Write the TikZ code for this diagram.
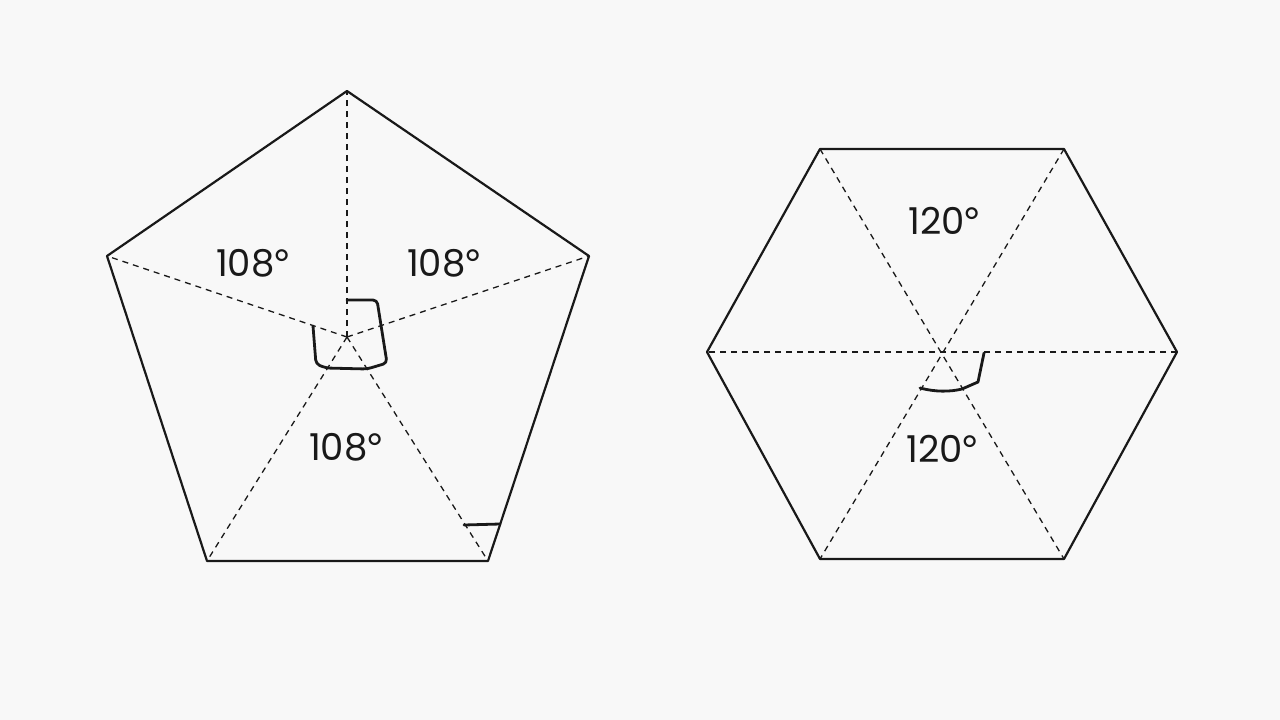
\documentclass[tikz,border=0pt]{standalone}
\usepackage{fontspec}
\setmainfont{Poppins}
\newfontfamily\degfont{Lato}
\definecolor{bg}{RGB}{248,248,248}
\definecolor{ink}{RGB}{25,25,25}
\newcommand{\degsym}{{\degfont °}}
\begin{document}
\begin{tikzpicture}[x=1pt,y=-1pt,
  edge/.style={draw=ink,line width=2.2pt,line join=round},
  diag/.style={draw=ink,line width=1.3pt,dash pattern=on 6pt off 5pt},
  anglemark/.style={draw=ink,line width=2.8pt,line cap=round,line join=round,rounded corners=4pt},
  lbl/.style={font=\fontsize{37}{40}\selectfont,text=ink,inner sep=0pt}]
\fill[bg] (0,0) rectangle (1280,720);
\useasboundingbox (0,0) rectangle (1280,720);
% pentagon
\coordinate (pc) at (347,337);
\coordinate (p1) at (347,91);
\coordinate (p2) at (589,256);
\coordinate (p3) at (488,561);
\coordinate (p4) at (207,561);
\coordinate (p5) at (107,256);
\foreach \v in {p1,p2,p3,p4,p5} \draw[diag] (pc) -- (\v);
\draw[edge] (p1) -- (p2) -- (p3) -- (p4) -- (p5) -- cycle;
% marks at pentagon center
\draw[anglemark] (313,326) -- (316,364) -- (326,368) -- (367,369) -- (387,363) -- (377,300) -- (347,300);
\draw[anglemark] (464,525) -- (500,524);
% hexagon
\coordinate (hc) at (942,352);
\coordinate (h1) at (820,149);
\coordinate (h2) at (1064,149);
\coordinate (h3) at (1177,352);
\coordinate (h4) at (1064,559);
\coordinate (h5) at (820,559);
\coordinate (h6) at (707,352);
\draw[diag] (h1) -- (h4);
\draw[diag] (h2) -- (h5);
\draw[diag] (h3) -- (h6);
\draw[edge] (h1) -- (h2) -- (h3) -- (h4) -- (h5) -- (h6) -- cycle;
\draw[draw=ink,line width=2.8pt,line cap=round,line join=round] (920,388) .. controls (935,392) and (950,392) .. (962,389) -- (978,382) -- (984,353);
% labels
\node[lbl] (t1) at (253,263) {108\degsym};
\node[lbl] (t2) at (444,263) {108\degsym};
\node[lbl] (t3) at (346,447) {108\degsym};
\node[lbl] (t4) at (944,221) {120\degsym};
\node[lbl] (t5) at (942,449) {120\degsym};
\end{tikzpicture}
\end{document}
